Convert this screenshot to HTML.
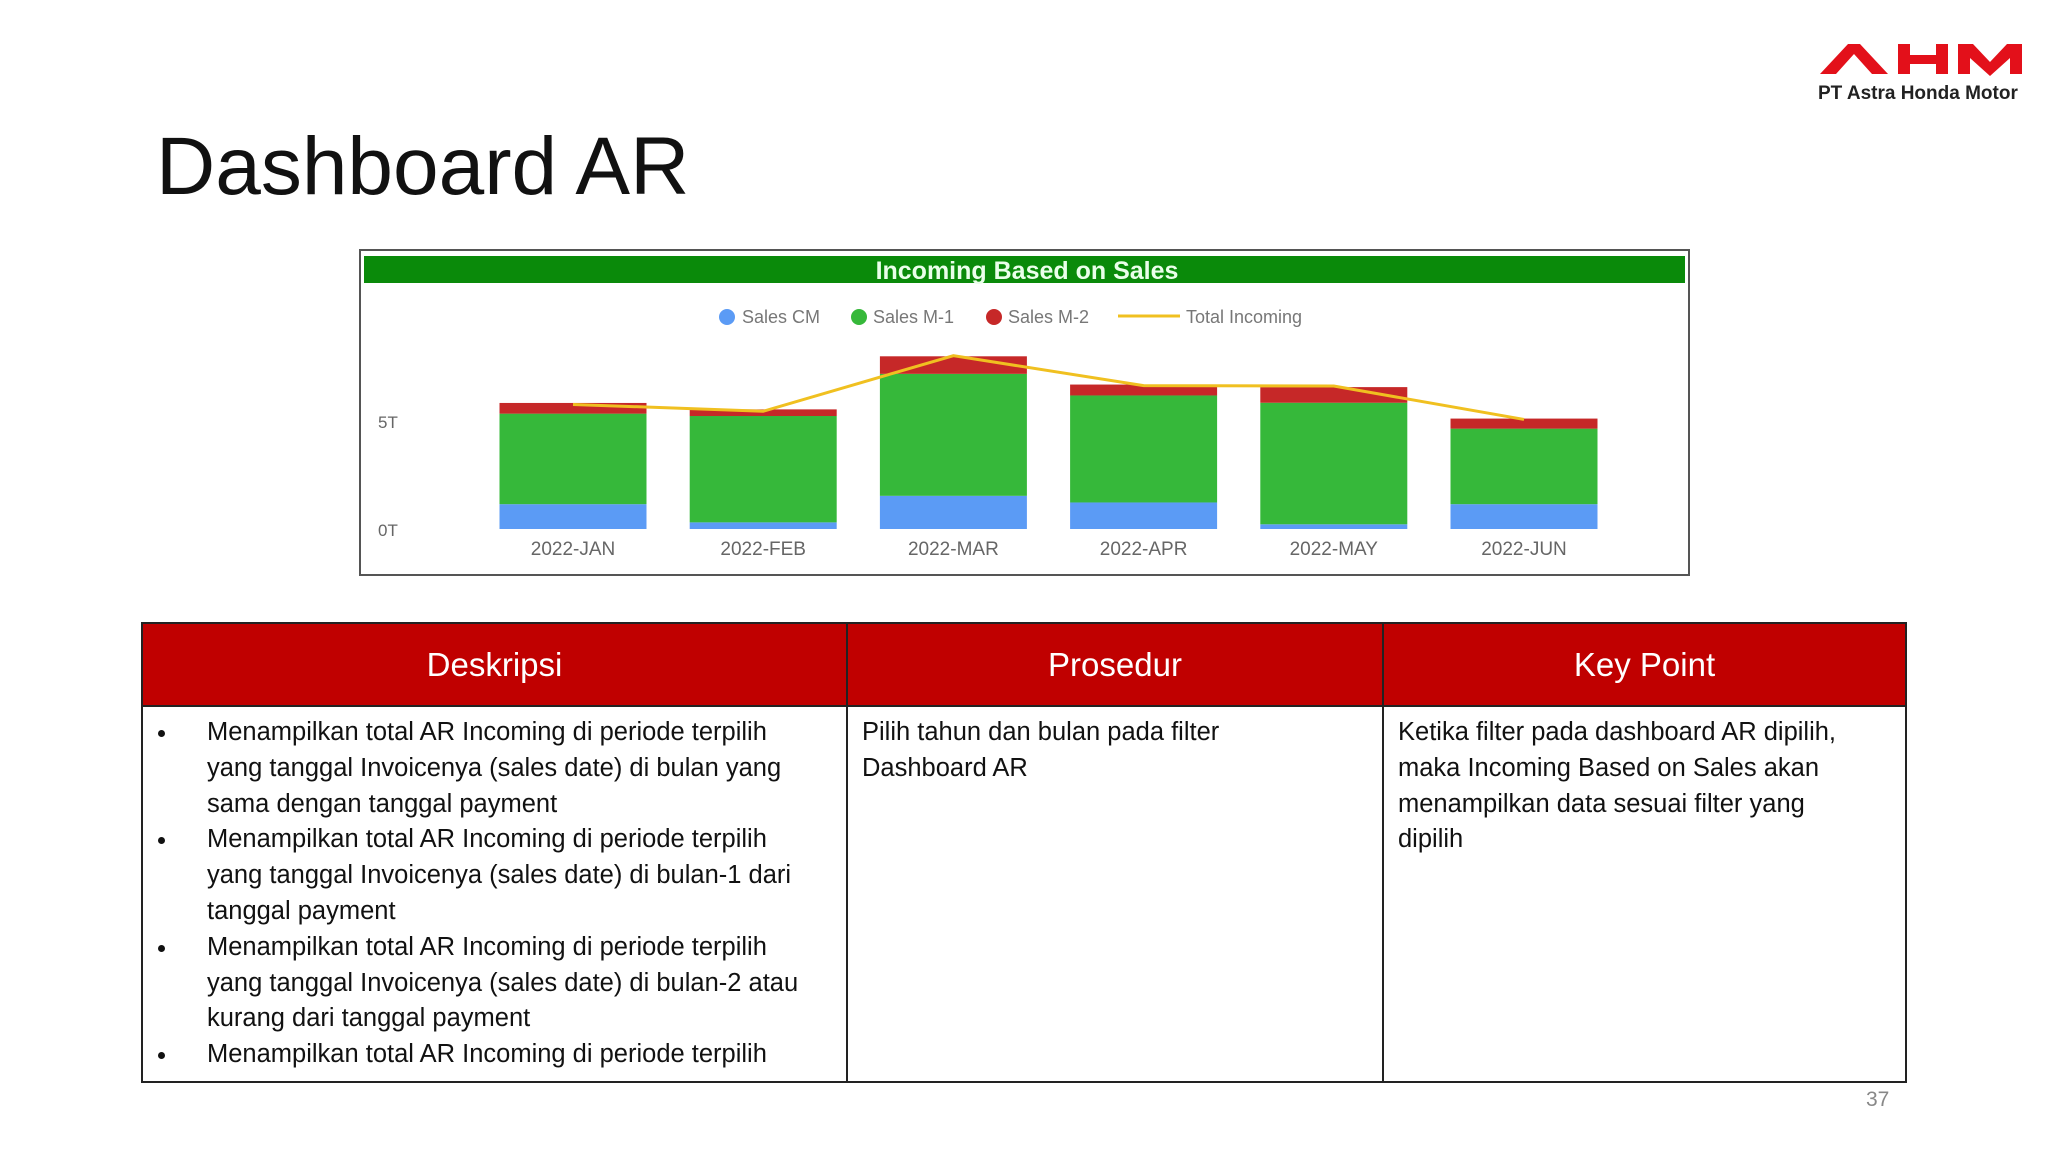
<!DOCTYPE html>
<html><head><meta charset="utf-8">
<style>
body{margin:0;width:2048px;height:1152px;background:#fff;font-family:"Liberation Sans",sans-serif;position:relative;overflow:hidden}
.abs{position:absolute}
table{border-collapse:collapse;position:absolute;left:141px;top:622px;width:1766px;height:455px;table-layout:fixed}
th{background:#c00000;color:#fff;font-weight:normal;font-size:33px;height:79px;border:2px solid #222}
td{vertical-align:top;border:2px solid #222;font-size:25.5px;line-height:35.8px;color:#111;padding:8px 14px;white-space:nowrap}
ul{margin:0;padding-left:36px}
li{padding-left:28px}
</style></head><body>
<div class="abs" style="left:1818px;top:40px;width:215px">
<svg width="215" height="40" viewBox="0 0 215 40">
<polygon points="2,34 30,4 42,4 70,34 54,34 36,14 18,34" fill="#e3101a"/>
<rect x="80" y="4" width="12" height="30" fill="#e3101a"/><rect x="118" y="4" width="12" height="30" fill="#e3101a"/><rect x="80" y="15" width="50" height="9" fill="#e3101a"/>
<polygon points="140,34 140,4 155,4 172,22 189,4 204,4 204,34 192,34 192,18 172,36 152,18 152,34" fill="#e3101a"/>
</svg>
<div style="font-size:19px;font-weight:bold;color:#222;margin-top:-2px">PT Astra Honda Motor</div>
</div>
<div class="abs" style="left:156px;top:120px;font-size:82px;color:#111">Dashboard AR</div>

<svg class="abs" style="left:0;top:0" width="2048" height="620" id="chart">
<rect x="360" y="250" width="1329" height="325" fill="#fff" stroke="#555" stroke-width="2"/>
<rect x="364" y="256" width="1321" height="27" fill="#0a8a0a"/>
<text x="1027" y="279" text-anchor="middle" font-size="25" font-weight="bold" fill="#eaffea" font-family="Liberation Sans,sans-serif">Incoming Based on Sales</text>
<g font-family="Liberation Sans,sans-serif" font-size="18" fill="#777">
<circle cx="727" cy="317" r="8" fill="#5b9bf5"/><text x="742" y="323">Sales CM</text>
<circle cx="859" cy="317" r="8" fill="#36b83a"/><text x="873" y="323">Sales M-1</text>
<circle cx="994" cy="317" r="8" fill="#c62828"/><text x="1008" y="323">Sales M-2</text>
<line x1="1118" y1="316" x2="1180" y2="316" stroke="#f0c020" stroke-width="3"/><text x="1186" y="323">Total Incoming</text>
</g>
<text x="378" y="428" font-size="17" fill="#666" font-family="Liberation Sans,sans-serif">5T</text>
<text x="378" y="536" font-size="17" fill="#666" font-family="Liberation Sans,sans-serif">0T</text>
</svg>

<table>
<colgroup><col style="width:705px"><col style="width:536px"><col></colgroup>
<tr><th>Deskripsi</th><th>Prosedur</th><th>Key Point</th></tr>
<tr>
<td style="padding-left:0"><ul>
<li>Menampilkan total AR Incoming di periode terpilih<br>yang tanggal Invoicenya (sales date) di bulan yang<br>sama dengan tanggal payment</li>
<li>Menampilkan total AR Incoming di periode terpilih<br>yang tanggal Invoicenya (sales date) di bulan-1 dari<br>tanggal payment</li>
<li>Menampilkan total AR Incoming di periode terpilih<br>yang tanggal Invoicenya (sales date) di bulan-2 atau<br>kurang dari tanggal payment</li>
<li>Menampilkan total AR Incoming di periode terpilih</li>
</ul></td>
<td>Pilih tahun dan bulan pada filter<br>Dashboard AR</td>
<td>Ketika filter pada dashboard AR dipilih,<br>maka Incoming Based on Sales akan<br>menampilkan data sesuai filter yang<br>dipilih</td>
</tr></table>
<div class="abs" style="left:1866px;top:1088px;font-size:21px;color:#888">37</div>

<script>
const categories=["2022-JAN","2022-FEB","2022-MAR","2022-APR","2022-MAY","2022-JUN"];
const salesCM=[1.16,0.31,1.55,1.24,0.22,1.16];
const salesM1=[4.23,4.97,5.70,5.00,5.68,3.53];
const salesM2=[0.50,0.31,0.82,0.51,0.73,0.47];
const totalIncoming=[5.82,5.50,8.10,6.70,6.68,5.12];
const NS="http://www.w3.org/2000/svg";
const svg=document.getElementById('chart');
const x0=573,step=190.2,bw=147;
const xs=i=>x0+i*step;
const ys=v=>529-v*21.4;
function mk(tag,attrs){const e=document.createElementNS(NS,tag);for(const k in attrs)e.setAttribute(k,attrs[k]);svg.appendChild(e);return e;}
categories.forEach((c,i)=>{
  let base=0;
  [[salesCM,'#5b9bf5','cm'],[salesM1,'#36b83a','m1'],[salesM2,'#c62828','m2']].forEach(([arr,col,n])=>{
    const v=arr[i];
    const r=mk('rect',{x:xs(i)-bw/2,y:ys(base+v),width:bw,height:ys(base)-ys(base+v),fill:col});
    
    
    base+=v;
  });
  const t=mk('text',{x:xs(i),y:555,'text-anchor':'middle','font-size':19,fill:'#666','font-family':'Liberation Sans,sans-serif'});
  t.textContent=c;
  
  
});
const pl=mk('polyline',{points:totalIncoming.map((v,i)=>xs(i)+','+ys(v)).join(' '),fill:'none',stroke:'#f0c020','stroke-width':3});


</script>
</body></html>
